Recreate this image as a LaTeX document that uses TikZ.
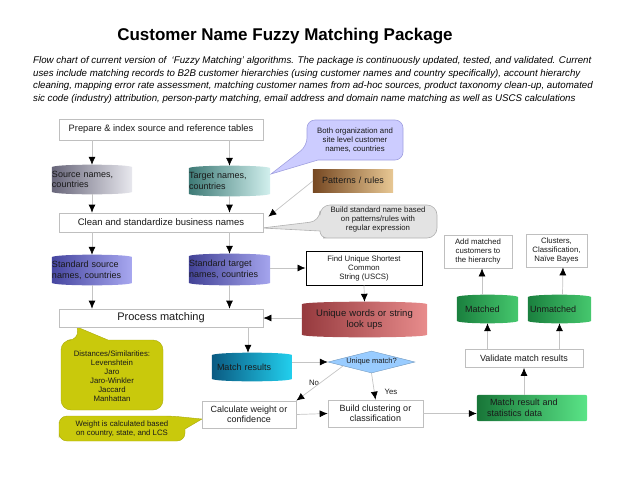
\documentclass[tikz,border=0pt]{standalone}
\usepackage{fontspec}
\setmainfont{Liberation Sans}
\usetikzlibrary{arrows.meta,calc,shapes.geometric}
\pgfdeclarelayer{background}
\pgfsetlayers{background,main}
\definecolor{boxgray}{HTML}{BFBFBF}
\definecolor{linegray}{HTML}{C4C4C4}
\definecolor{txt}{HTML}{1A1A1A}
\definecolor{lav}{HTML}{CCCCFF}
\definecolor{lavd}{HTML}{A0A0E0}
\definecolor{cg}{HTML}{E3E3E3}
\definecolor{cgd}{HTML}{B0B0B0}
\definecolor{ylw}{HTML}{C9C90C}
\definecolor{diamc}{HTML}{99CCFF}
\newcommand\fs[2]{\fontsize{#1}{#2}\selectfont}
\newcommand\cylshade[2]{%
  \shade[#2] ($(#1.north west)+(0pt,-2.5pt)$) .. controls ($(#1.north west)+(0pt,1pt)$) and ($(#1.north east)+(0pt,1pt)$) .. ($(#1.north east)+(0pt,-2.5pt)$)
    -- ($(#1.south east)+(0pt,2.5pt)$) .. controls ($(#1.south east)+(0pt,-1pt)$) and ($(#1.south west)+(0pt,-1pt)$) .. ($(#1.south west)+(0pt,2.5pt)$) -- cycle;}
\begin{document}
\begin{tikzpicture}[x=1pt,y=-1pt,
  box/.style={draw=boxgray, fill=white, line width=0.7pt, inner sep=0pt, align=center, text=txt, font=\fs{9}{10.5}},
  cylnode/.style={inner sep=0pt, align=left, text=txt, font=\fs{9}{10.5}},
  arr/.style={draw=linegray, line width=0.7pt, -{Latex[length=8pt,width=7pt,color=black]}},
  ctxt/.style={align=center, font=\fs{7.8}{9}, inner sep=0pt, text=txt},
  lbl/.style={font=\fs{7.8}{9}, inner sep=0pt, text=txt}
]
\useasboundingbox (0,0) rectangle (638,493);

% title and description
\node[font=\fs{17}{20}\bfseries, text=black, inner sep=0pt] (title) at (285,36) {Customer Name Fuzzy Matching Package};
\node[anchor=north west, align=left, inner sep=0pt, font=\fs{9.7}{12.6}\itshape, text=black] (desc) at (33,56.5) {%
Flow chart of current version of\ \ `Fuzzy Matching' algorithms. The package is continuously updated, tested, and validated. Current\\
uses include matching records to B2B customer hierarchies (using customer names and country specifically), account hierarchy\\
cleaning, mapping error rate assessment, matching customer names from ad-hoc sources, product taxonomy clean-up, automated\\
sic code (industry) attribution, person-party matching, email address and domain name matching as well as USCS calculations};

% boxes
\node[box, minimum width=204pt, minimum height=21pt, font=\fs{9.3}{11}] (prep) at (161,129.5) {Prepare \& index source and reference tables};
\node[box, minimum width=204pt, minimum height=19pt, font=\fs{9.5}{11}] (clean) at (161,222.5) {Clean and standardize business names};
\node[box, minimum width=204pt, minimum height=18pt, font=\fs{11}{13}] (proc) at (161,318) {Process matching};
\node[box, draw=black, line width=1pt, minimum width=116pt, minimum height=34pt, font=\fs{7.8}{9}] (find) at (364,268) {Find Unique Shortest\\Common\\String (USCS)};
\node[box, minimum width=68pt, minimum height=33pt, font=\fs{7.8}{9}] (addm) at (478,251.5) {Add matched\\customers to\\the hierarchy};
\node[box, minimum width=61pt, minimum height=33pt, font=\fs{7.8}{9}] (clus) at (556.5,250.5) {Clusters,\\Classification,\\Naïve Bayes};
\node[box, minimum width=118pt, minimum height=18pt] (validate) at (524,358.5) {Validate match results};
\node[box, minimum width=94pt, minimum height=27pt] (calc) at (249,414.5) {Calculate weight or\\confidence};
\node[box, minimum width=95pt, minimum height=27pt] (build) at (375.5,413.5) {Build clustering or\\classification};

% cylinders and shaded boxes
\node[cylnode, text width=80pt, minimum height=29pt] (src) at (92,179.5) {Source names,\\countries};
\node[cylnode, text width=81pt, minimum height=30pt] (tgt) at (229.5,181) {Target names,\\countries};
\node[cylnode, text width=80pt, minimum height=30pt] (stsrc) at (92,270) {\\[-3pt]Standard source\\names, countries};
\node[cylnode, text width=81pt, minimum height=31pt] (sttgt) at (229.5,269.5) {Standard target\\names, countries\\[2pt]};
\node[cylnode, text width=80pt, minimum height=22pt, align=center] (pat) at (353,181) {\\[-6pt]Patterns / rules};
\node[cylnode, text width=125pt, minimum height=35pt, align=center, font=\fs{9.5}{11}] (uniq) at (364.5,319.5) {\\[-4pt]Unique words or string\\look ups};
\node[cylnode, text width=80pt, minimum height=28pt] (mres) at (252,367) {\hspace{5pt}Match results};
\node[cylnode, text width=61pt, minimum height=28pt] (matched) at (487.5,309) {\hspace{8pt}Matched};
\node[cylnode, text width=63pt, minimum height=28pt] (unmatched) at (559.5,309) {\hspace{2pt}Unmatched};
\node[cylnode, text width=110pt, minimum height=26pt] (mdata) at (532,408) {\hspace{13pt}Match result and\\\hspace{10pt}statistics data};
\node[draw=diamc!75!black, fill=diamc, line width=0.4pt, shape=diamond, aspect=3.95, minimum width=87pt, minimum height=22pt, inner sep=0pt, font=\fs{7.5}{9}, text=txt] (diam) at (371.5,362) {Unique match?};

% callout texts
\node[ctxt] (both) at (355,140) {Both organization and\\site level customer\\names, countries};
\node[ctxt] (bstd) at (378,219.5) {Build standard name based\\on patterns/rules with\\regular expression};
\node[ctxt] (dist) at (112,376) {Distances/Similarities:\\Levenshtein\\Jaro\\Jaro-Winkler\\Jaccard\\Manhattan};
\node[ctxt] (wgt) at (122,429) {Weight is calculated based\\on country, state, and LCS};
\node[lbl] (no) at (314,383) {No};
\node[lbl] (yes) at (391,392) {Yes};

\begin{pgfonlayer}{background}
\cylshade{src}{left color={rgb,255:red,104;green,102;blue,122}, right color={rgb,255:red,232;green,232;blue,238}}
\cylshade{tgt}{left color={rgb,255:red,62;green,122;blue,118}, right color={rgb,255:red,210;green,240;blue,238}}
\cylshade{stsrc}{left color={rgb,255:red,70;green,70;blue,160}, right color={rgb,255:red,168;green,168;blue,240}}
\cylshade{sttgt}{left color={rgb,255:red,66;green,66;blue,150}, right color={rgb,255:red,165;green,165;blue,238}}
\cylshade{uniq}{left color={rgb,255:red,150;green,58;blue,62}, right color={rgb,255:red,232;green,140;blue,140}}
\cylshade{mres}{left color={rgb,255:red,10;green,90;blue,130}, right color={rgb,255:red,34;green,208;blue,238}}
\cylshade{matched}{left color={rgb,255:red,26;green,128;blue,62}, right color={rgb,255:red,70;green,200;blue,110}}
\cylshade{unmatched}{left color={rgb,255:red,26;green,128;blue,62}, right color={rgb,255:red,70;green,200;blue,110}}
\shade[rounded corners=2pt, left color={rgb,255:red,24;green,118;blue,56}, right color={rgb,255:red,90;green,228;blue,135}] (mdata.south west) rectangle (mdata.north east);
\shade[left color={rgb,255:red,118;green,72;blue,34}, right color={rgb,255:red,232;green,200;blue,148}] (pat.south west) rectangle (pat.north east);
% callouts
\filldraw[fill=lav, draw=lavd, line width=0.6pt] (330,160) [rounded corners=8pt] -- (403,160) -- (403,120) -- (307,120) -- (307,146) [sharp corners] -- (271,174) -- (318,160) -- cycle;
\filldraw[fill=cg, draw=cgd, line width=0.6pt] (330,238) [rounded corners=10pt] -- (437,238) -- (437,205) -- (320,205) -- (320,221) [sharp corners] -- (262,228) -- (320,231) [rounded corners=7pt] -- (320,238) -- cycle;
\filldraw[fill=ylw, draw=ylw!85!black, line width=0.4pt] (61,375) [rounded corners=10pt] -- (61,340) -- (79,340) [sharp corners] -- (77,327) -- (108,340) [rounded corners=10pt] -- (163,340) -- (163,410) -- (61,410) -- cycle;
\filldraw[fill=ylw, draw=ylw!85!black, line width=0.4pt] (59,430) [rounded corners=8pt] -- (59,416) -- (172,416) [sharp corners] -- (202,419) -- (185,429) [rounded corners=8pt] -- (185,441) -- (59,441) -- cycle;
\end{pgfonlayer}

% connectors
\draw[arr] (prep.south -| src.north) -- (src.north);
\draw[arr] (prep.south -| tgt.north) -- (tgt.north);
\draw[arr] (src.south) -- (clean.north -| src.south);
\draw[arr] (tgt.south) -- (clean.north -| tgt.south);
\draw[arr] (pat.west) -- ($(clean.north east)+(5pt,-4pt)$);
\draw[arr] (clean.south -| stsrc.north) -- (stsrc.north);
\draw[arr] (clean.south -| sttgt.north) -- (sttgt.north);
\draw[arr] (sttgt.east |- find.west) -- (find.west);
\draw[arr] (find.south) -- (uniq.north);
\draw[arr] (uniq.west |- proc.east) -- (proc.east);
\draw[arr] (stsrc.south) -- (proc.north -| stsrc.south);
\draw[arr] (sttgt.south) -- (proc.north -| sttgt.south);
\draw[arr] ($(proc.south -| mres.north)+(-4pt,0pt)$) -- ($(mres.north)+(-4pt,0pt)$);
\draw[arr] (mres.east |- diam.west) -- (diam.west);
\draw[arr] ($(diam.west)!0.35!(diam.south)$) -- (calc.north east);
\draw[arr] (diam.south) -- (build.north);
\draw[arr] (calc.east) -- (build.west);
\draw[arr] (build.east) -- (build.east -| mdata.west);
\draw[arr] (mdata.north -| validate.south) -- (validate.south);
\draw[arr] (validate.north -| matched.south) -- (matched.south);
\draw[arr] (validate.north -| unmatched.south) -- (unmatched.south);
\draw[arr] ($(matched.north)+(-5.5pt,0pt)$) -- ($(addm.south)+(4pt,0pt)$);
\draw[arr] ($(unmatched.north)+(3pt,0pt)$) -- ($(clus.south)+(6.5pt,0pt)$);
\end{tikzpicture}
\end{document}
